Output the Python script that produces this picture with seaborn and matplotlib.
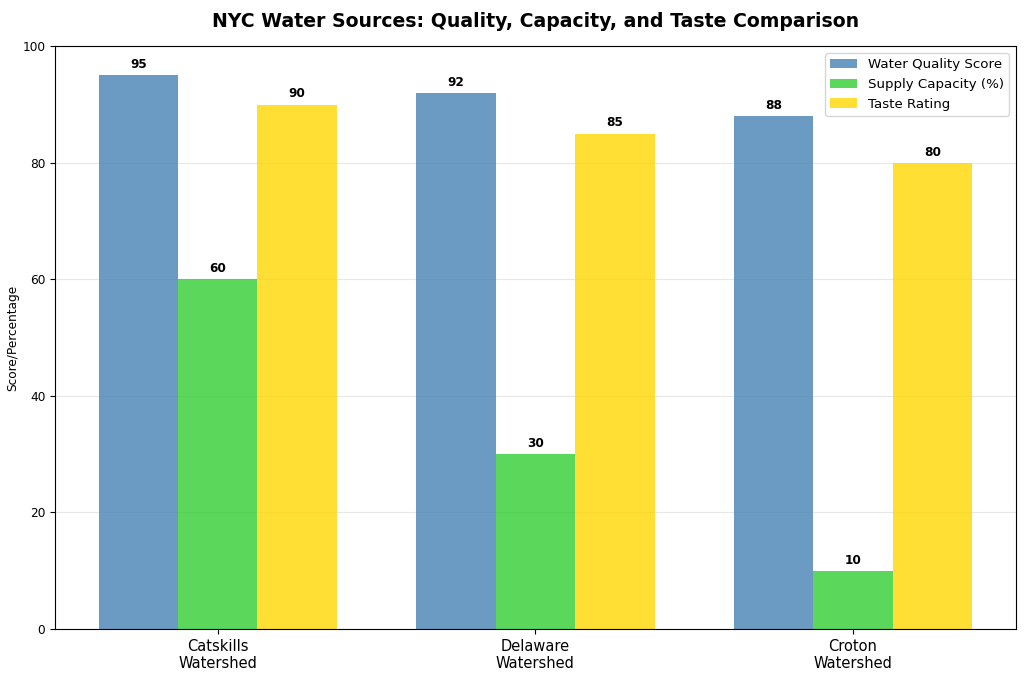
import matplotlib
matplotlib.use("Agg")
import matplotlib.pyplot as plt
import seaborn as sns
import pandas as pd

sources = ["Catskills\nWatershed", "Delaware\nWatershed", "Croton\nWatershed"]
quality = [95, 92, 88]
capacity = [60, 30, 10]
taste = [90, 85, 80]
metrics = ["Water Quality Score", "Supply Capacity (%)", "Taste Rating"]
colors = ["#4682B4", "#32CD32", "#FFD700"]

rows = []
for m, vals in zip(metrics, [quality, capacity, taste]):
    for s, v in zip(sources, vals):
        rows.append({"Source": s, "Metric": m, "Value": v})
df = pd.DataFrame(rows)

fig, ax = plt.subplots(figsize=(10.24, 6.8), dpi=100)
sns.barplot(data=df, x="Source", y="Value", hue="Metric", palette=colors,
            alpha=0.8, width=0.75, ax=ax, saturation=1, err_kws={"linewidth": 0})

for cont in ax.containers:
    ax.bar_label(cont, fmt="%d", padding=3, fontweight="bold", fontsize=8.7)

ax.set_title("NYC Water Sources: Quality, Capacity, and Taste Comparison",
             fontsize=13.6, fontweight="bold", pad=14)
ax.set_ylabel("Score/Percentage", fontsize=8.7, labelpad=2)
ax.set_xlabel("")
ax.set_ylim(0, 100)
ax.set_xlim(-0.5125, 2.5125)
ax.tick_params(axis="x", labelsize=10.5)
ax.tick_params(axis="y", labelsize=8.7)
ax.yaxis.grid(True, alpha=0.3)
ax.set_axisbelow(True)
ax.legend(loc="upper right", fontsize=9.6)

fig.subplots_adjust(left=0.0537, right=0.992, top=0.932, bottom=0.075)
fig.savefig("out.png", dpi=100)
